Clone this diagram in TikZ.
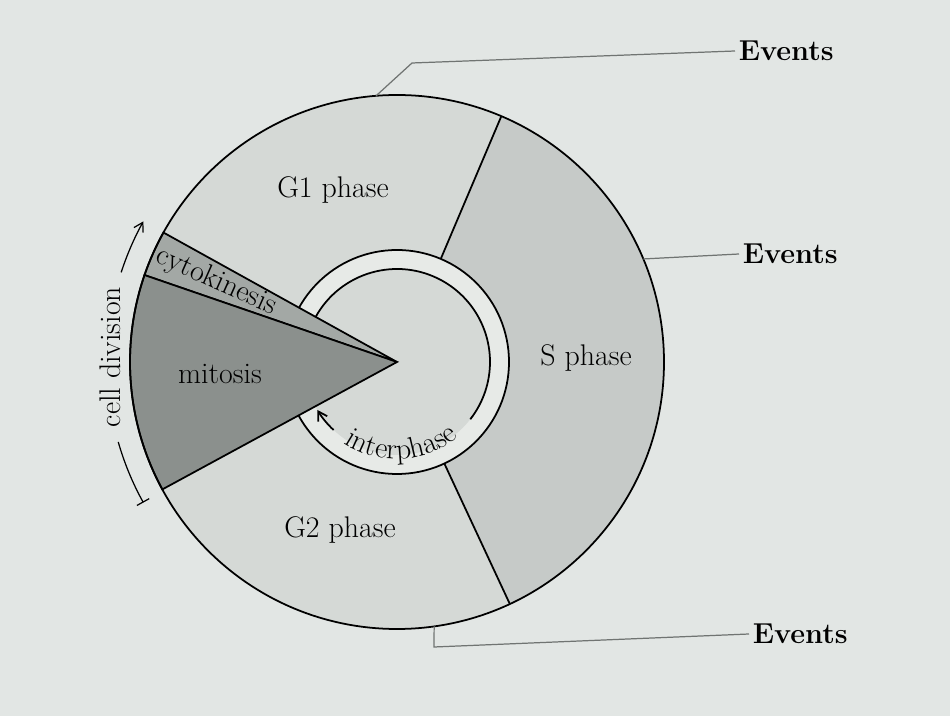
\documentclass[tikz,border=0pt]{standalone}
\usepackage{amsmath}
\usetikzlibrary{arrows.meta,decorations.text}

\definecolor{paper}{HTML}{E2E6E4}
\definecolor{gonegray}{HTML}{D5D9D6}
\definecolor{sgray}{HTML}{C6CAC8}
\definecolor{ringgray}{HTML}{E7EAE7}
\definecolor{mitgray}{HTML}{8B908D}
\definecolor{cytogray}{HTML}{A3A8A5}
\definecolor{leadgray}{HTML}{707472}

\begin{document}
\begin{tikzpicture}[x=0.02cm,y=0.02cm,
    phase/.style={font=\fontsize{17}{20}\selectfont, inner sep=0pt},
    events/.style={font=\fontsize{16.4}{19}\selectfont\bfseries, anchor=west, inner sep=2pt},
    lead/.style={leadgray, line width=0.7pt},
    edge/.style={draw=black, line width=1pt}]

            % Canvas
            \fill[paper] (-397,-354) rectangle (553,362);
            \useasboundingbox (-397,-354) rectangle (553,362);

            % Define points
            \coordinate (TopOut) at (94.5:267);
            \coordinate (TopBend) at (15,299);
            \coordinate (RightOut) at (22.7:267);
            \coordinate (LowOut) at (-82:267);
            \coordinate (LowBend) at (37,-285);

            % Fill G1, G2 and S phase
            \fill[gonegray] (0,0) circle[radius=267];
            \fill[sgray] (0,0) -- (-65:267) arc[start angle=-65, end angle=67, radius=267] -- cycle;

            % Draw interphase ring
            \fill[ringgray] (0,0) circle[radius=112];
            \fill[gonegray] (0,0) circle[radius=93];
            \draw[edge] (0,0) circle[radius=112];
            \draw[edge] (151:93) arc[start angle=151, end angle=-38, radius=93];
            \draw[edge,-{Straight Barb[length=5pt,width=6pt]}] (227:93) arc[start angle=227, end angle=211, radius=93];

            % Draw cell division wedges
            \filldraw[fill=cytogray, edge] (0,0) -- (151:267) arc[start angle=151, end angle=161, radius=267] -- cycle;
            \filldraw[fill=mitgray, edge] (0,0) -- (161:267) arc[start angle=161, end angle=208.5, radius=267] -- cycle;

            % Draw outer circle and phase borders
            \draw[edge] (0,0) circle[radius=267];
            \draw[edge] (67:112) -- (67:267);
            \draw[edge] (-65:112) -- (-65:267);

            % Draw cell division span
            \draw[line width=0.7pt,-{Straight Barb[length=5pt,width=6pt]}] (162:290) arc[start angle=162, end angle=151, radius=290];
            \draw[line width=0.7pt,-{Bar[width=8pt]}] (196:290) arc[start angle=196, end angle=209, radius=290];

            % Label phases
            \node[phase] (gone) at (-64,172) {G1 phase};
            \node[phase] (sphase) at (189,4) {S phase};
            \node[phase] (gtwo) at (-57,-168) {G2 phase};
            \node[phase] (mitosis) at (-177,-12) {mitosis};
            \node[phase, rotate=-24] (cytokinesis) at (156:198) {cytokinesis};
            \node[phase, rotate=90] (celldiv) at (179:287) {cell division};
            \path[decorate, decoration={text along path, text align=center,
                text={|\fontsize{17}{20}\selectfont|interphase}}]
                (227:97) arc[start angle=227, end angle=319, radius=97];

            % Label events
            \node[events] (evtop) at (338,311) {Events};
            \node[events] (evmid) at (342,108) {Events};
            \node[events] (evlow) at (352,-272) {Events};

            % Draw leader lines
            \draw[lead] (TopOut) -- (TopBend) -- (evtop.west);
            \draw[lead] (RightOut) -- (evmid.west);
            \draw[lead] (LowOut) -- (LowBend) -- (evlow.west);
\end{tikzpicture}
\end{document}
